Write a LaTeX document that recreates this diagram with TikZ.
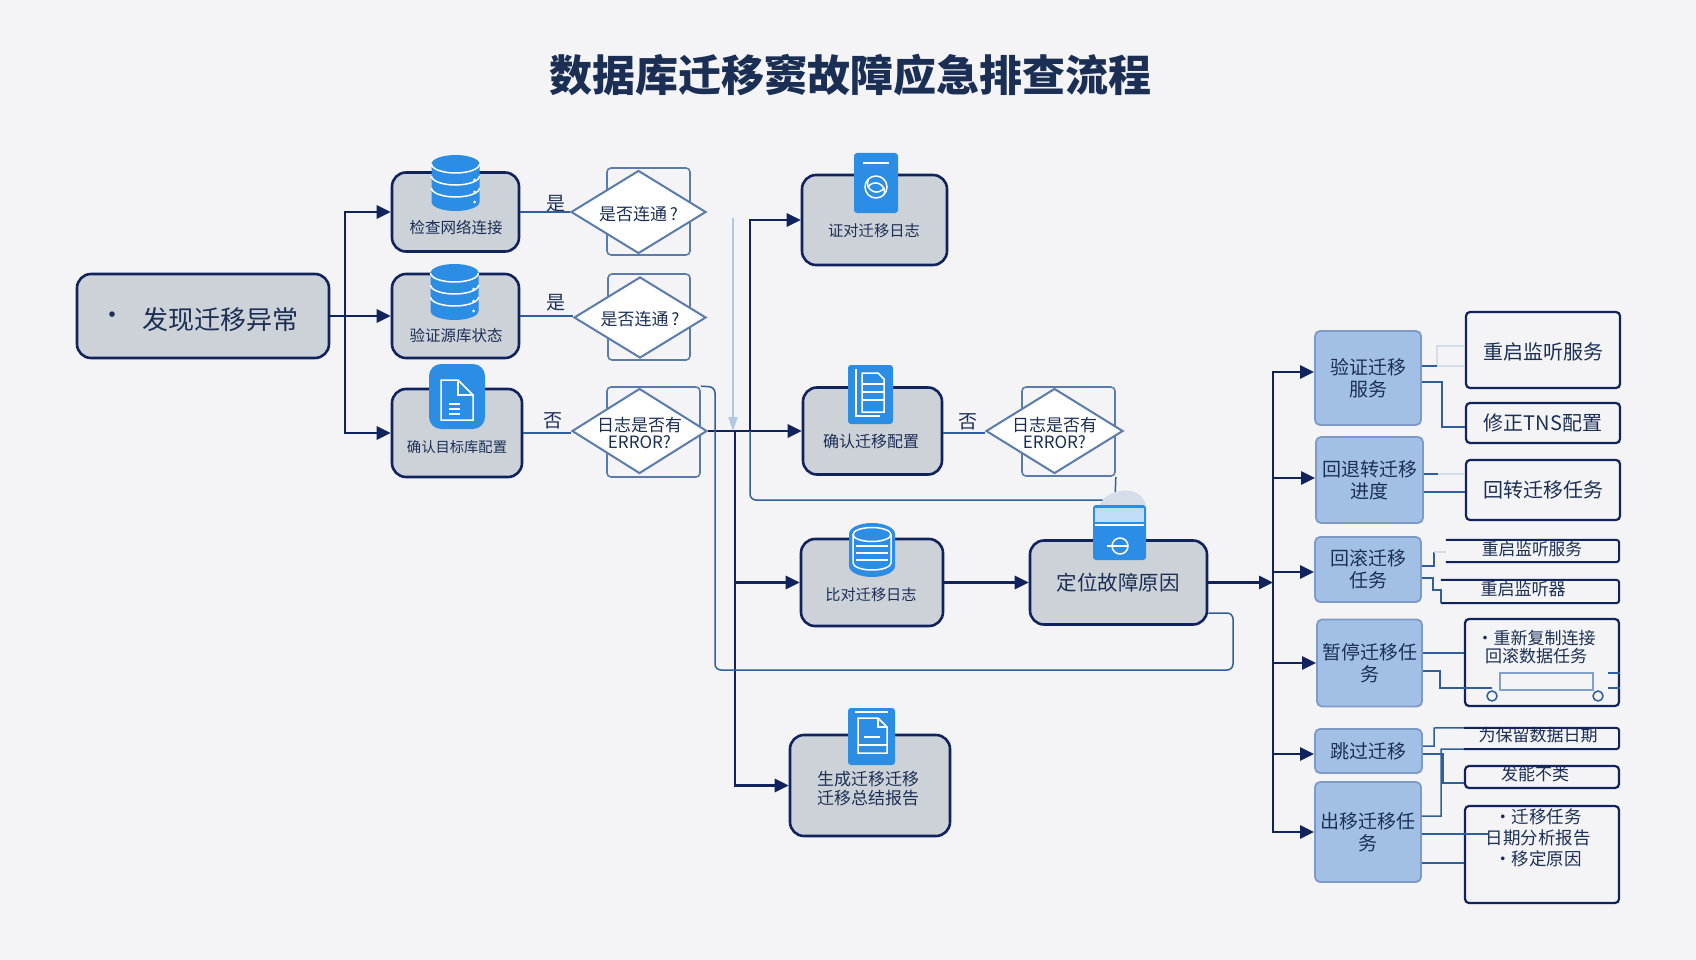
\documentclass[tikz,border=0pt]{standalone}
\usepackage{fontspec}
\setmainfont{Noto Sans CJK SC}
\usetikzlibrary{arrows.meta,shapes.geometric}

\definecolor{pagebg}{HTML}{F4F4F7}
\definecolor{navy}{HTML}{10235C}
\definecolor{inkblue}{HTML}{1B2F55}
\definecolor{grayfill}{HTML}{CDD2D9}
\definecolor{bluefill}{HTML}{A2BFE6}
\definecolor{blueedge}{HTML}{7E9BC6}
\definecolor{iconblue}{HTML}{2C8DE4}
\definecolor{wireblue}{HTML}{2F5F9E}
\definecolor{diamondedge}{HTML}{5A7BAC}
\definecolor{faintblue}{HTML}{D5DDE8}
\definecolor{paleblue}{HTML}{B4C7E0}
\definecolor{markblue}{HTML}{7FA0CC}

\newcommand{\sz}[1]{\fontsize{#1}{#1}\selectfont}
\newcommand{\szl}[2]{\fontsize{#1}{#2}\selectfont}
\newcommand{\dn}[1]{\raisebox{-2pt}[\height][\depth]{#1}}

\tikzset{
  gray node/.style={rectangle,rounded corners=14,draw=navy,line width=2.6,fill=grayfill},
  blue node/.style={rectangle,rounded corners=5,draw=blueedge,line width=1.8,fill=bluefill,
    text=inkblue,align=center,font=\szl{19}{22},inner sep=0},
  box text/.style={text=inkblue,align=center,inner sep=0},
  answer node/.style={rectangle,rounded corners=4,draw=navy,line width=2.2,fill=pagebg,
    text=inkblue,align=center,inner sep=0},
  open node/.style={rectangle,inner sep=0},
  open frame/.style={draw=navy,line width=2,rounded corners=3},
  ask node/.style={diamond,aspect=1.63,draw=diamondedge,line width=2,fill=white,
    text=inkblue,align=center,inner sep=-7pt,font=\szl{17}{17}},
  back node/.style={rectangle,rounded corners=4,draw=diamondedge,line width=1.6},
  icon node/.style={rectangle,rounded corners=3,fill=iconblue,inner sep=0},
  main line/.style={draw=navy,line width=2.8,>={Triangle[length=14pt,width=13pt]}},
  wire/.style={draw=wireblue,line width=1.5},
  faint wire/.style={draw=faintblue,line width=1.2},
  icon line/.style={draw=white,line width=1.5},
  pics/dbstack/.style={code={
    \fill[iconblue] (-24,-19) -- (-24,19) arc[start angle=180,end angle=0,x radius=24,y radius=9]
      -- (24,-19) arc[start angle=0,end angle=-180,x radius=24,y radius=9];
    \foreach \ly in {-19,-7,5}
      \draw[icon line] (-24,\ly) arc[start angle=180,end angle=0,x radius=24,y radius=9];
    \foreach \ly in {-3,9,19}
      \fill[white] (19,\ly) circle[radius=1.5];
  }}
}

\begin{document}
\begin{tikzpicture}[x=1pt,y=-1pt]

  \fill[pagebg] (0,0) rectangle (1696,960);
  \useasboundingbox (0,0) rectangle (1696,960);

  \node[text=inkblue,font=\sz{43}\bfseries] (Title) at (850,75) {数据库迁移窦故障应急排查流程};

  % wires that run behind the boxes come first
  \node[back node,minimum width=83,minimum height=87] (NetBack) at (648.5,211.5) {};
  \node[back node,minimum width=82,minimum height=86] (SrcBack) at (649,317) {};
  \node[back node,minimum width=93,minimum height=90] (TgtBack) at (653.5,432) {};
  \node[back node,minimum width=93,minimum height=89] (CfgBack) at (1068.5,431.5) {};

  \coordinate (LoopA) at (715,670);
  \coordinate (LoopB) at (1233,670);
  \coordinate (LoopC) at (1233,613);
  \coordinate (LoopD) at (750,500);
  \coordinate (LoopE) at (1115,500);
  \coordinate (PaleTop) at (733,218);
  \coordinate (PaleEnd) at (733,431);
  \coordinate (SplitL) at (345,316);
  \coordinate (SplitM) at (735,431);
  \coordinate (SplitC) at (750,431);
  \coordinate (SplitR) at (1273,582.5);

  \node[gray node,minimum width=252,minimum height=84] (Start) at (203,316) {};
  \node[gray node,minimum width=127,minimum height=79] (Net) at (455.5,212) {};
  \node[gray node,minimum width=127,minimum height=84] (Src) at (455.5,316) {};
  \node[gray node,minimum width=130,minimum height=88] (Tgt) at (457,433) {};
  \node[gray node,minimum width=145,minimum height=90] (Log) at (874.5,220) {};
  \node[gray node,minimum width=139,minimum height=87] (Cfg) at (872.5,431) {};
  \node[gray node,minimum width=142,minimum height=87] (Cmp) at (872,582.5) {};
  \node[gray node,minimum width=177,minimum height=84] (Loc) at (1118.5,582.5) {};
  \node[gray node,minimum width=160,minimum height=101] (Rep) at (870,785.5) {};

  \node[box text,font=\sz{26}] (StartText) at (220,320) {发现迁移异常};
  \node[box text,font=\sz{26}] (StartDot) at (112,318) {·};
  \node[box text,font=\sz{15.5}] (NetText) at (456,228) {检查网络连接};
  \node[box text,font=\sz{15.5}] (SrcText) at (456,336) {验证源库状态};
  \node[box text,font=\sz{14.3}] (TgtText) at (457,447) {确认目标库配置};
  \node[box text,font=\sz{15.3}] (LogText) at (874,231) {证对迁移日志};
  \node[box text,font=\sz{16}] (CfgText) at (871,441) {确认迁移配置};
  \node[box text,font=\sz{15.2}] (CmpText) at (871,595) {比对迁移日志};
  \node[box text,font=\sz{20.5}] (LocText) at (1118,583) {定位故障原因};
  \node[box text,font=\szl{17}{19}] (RepText) at (868,789) {生成迁移迁移\\迁移总结报告};

  \node[ask node,minimum width=135,minimum height=83] (AskNet) at (638.5,212) {\dn{是否连通\,?}};
  \node[ask node,minimum width=132,minimum height=81] (AskSrc) at (640,317.5) {\dn{是否连通\,?}};
  \node[ask node,minimum width=135,minimum height=85] (AskTgt) at (639.5,431) {\dn{日志是否有}\\\dn{ERROR?}};
  \node[ask node,minimum width=137,minimum height=85] (AskCfg) at (1054.5,431) {\dn{日志是否有}\\\dn{ERROR?}};

  \node[box text,font=\sz{19}] (YesNet) at (556,204) {是};
  \node[box text,font=\sz{19}] (YesSrc) at (556,303) {是};
  \node[box text,font=\sz{19}] (NoTgt) at (553,421) {否};
  \node[box text,font=\sz{19}] (NoCfg) at (968,422) {否};

  \node[blue node,minimum width=106,minimum height=94] (FixA) at (1368,378) {验证迁移\\服务};
  \node[blue node,minimum width=107,minimum height=86] (FixB) at (1369.5,480) {回退转迁移\\进度};
  \node[blue node,minimum width=106,minimum height=65] (FixC) at (1368,569.5) {回滚迁移\\任务};
  \node[blue node,minimum width=105,minimum height=87] (FixD) at (1369.5,663) {暂停迁移任\\务};
  \node[blue node,minimum width=107,minimum height=44] (FixE) at (1368.5,751) {跳过迁移};
  \node[blue node,minimum width=106,minimum height=100] (FixF) at (1368,832) {出移迁移任\\务};

  \node[answer node,minimum width=154,minimum height=76,font=\sz{20}] (AnsA) at (1543,350) {\dn{重启监听服务}};
  \node[answer node,minimum width=154,minimum height=40,font=\sz{20}] (AnsB) at (1543,423) {修正TNS配置};
  \node[answer node,minimum width=154,minimum height=60,font=\sz{20}] (AnsC) at (1543,490) {回转迁移任务};
  \node[open node,minimum width=173,minimum height=22] (AnsD) at (1532.5,551) {};
  \node[open node,minimum width=178,minimum height=23] (AnsE) at (1530,591.5) {};
  \node[answer node,minimum width=154,minimum height=87] (AnsF) at (1542,662.5) {};
  \node[open node,minimum width=155,minimum height=21] (AnsG) at (1541.5,738.5) {};
  \node[answer node,minimum width=154,minimum height=22] (AnsH) at (1542,777) {};
  \node[answer node,minimum width=154,minimum height=97] (AnsI) at (1542,854.5) {};

  % the open right hand frames
  \draw[open frame] (AnsD.north west) -- (AnsD.north east) -- (AnsD.south east) -- (AnsD.south west);
  \draw[open frame] (AnsE.north west) -- (AnsE.north east) -- (AnsE.south east) -- (AnsE.south west);
  \draw[open frame] (AnsG.north west) -- (AnsG.north east) -- (AnsG.south east) -- (AnsG.south west);

  \node[box text,font=\sz{16.7}] (AnsDText) at (1532,549) {重启监听服务};
  \node[box text,font=\sz{17}] (AnsEText) at (1523,589) {重启监听器};
  \node[box text,font=\szl{17}{18}] (AnsFText) at (1536,647) {•重新复制连接\\回滚数据任务};
  \node[box text,font=\sz{17}] (AnsGText) at (1538,735) {为保留数据日期};
  \node[box text,font=\sz{17}] (AnsHText) at (1535,774) {发能不类};
  \node[box text,font=\szl{17.5}{21}] (AnsIText) at (1538,838) {•迁移任务\\日期分析报告\\•移定原因};

  % pale marks inside the sixth answer
  \draw[draw=markblue,line width=1.5] (1500,673) -- (1593,673) -- (1593,690) -- (1500,690) -- cycle;
  \draw[wire] (1492,696) circle[radius=5];
  \draw[wire] (1598,696) circle[radius=5];
  \draw[wire] (AnsF.east|-0,673) -- +(-12,0);
  \draw[wire] (AnsF.east|-0,688) -- +(-12,0);

  \path[every edge/.style={main line,->}]
    (SplitL) edge (Src.west)
    (AskTgt.east) edge (Cfg.west)
    (Cmp.east) edge (Loc.west)
    (Loc.east) edge (SplitR);
  \draw[main line] (Start.east) -- (SplitL);
  \draw[main line,->] (SplitL) |- (Net.west);
  \draw[main line,->] (SplitL) |- (Tgt.west);
  \draw[main line,->] (SplitC) |- (Log.west);
  \draw[main line,->] (SplitM) |- (Cmp.west);
  \draw[main line,->] (SplitM) |- (Rep.west);
  \draw[main line,->] (SplitR) |- ([yshift=6pt]FixA.west);
  \draw[main line,->] (SplitR) |- ([yshift=2pt]FixB.west);
  \draw[main line,->] (SplitR) |- ([yshift=-2.5pt]FixC.west);
  \draw[main line,->] (SplitR) |- (FixD.west);
  \draw[main line,->] (SplitR) |- ([yshift=-3pt]FixE.west);
  \draw[main line,->] (SplitR) |- (FixF.west);

  \draw[draw=paleblue,line width=2,->,>={Triangle[length=14pt,width=9pt]}] (PaleTop) -- (PaleEnd);

  \draw[wire] (Net.east) -- (AskNet.west);
  \draw[wire] (Src.east) -- (Src.east-|AskSrc.west);
  \draw[wire] (Tgt.east) -- (Tgt.east-|AskTgt.west);
  \draw[wire] ([yshift=-2pt]Cfg.east) -- ([yshift=-2pt]AskCfg.west);

  \draw[wire,rounded corners=6] (TgtBack.north east) -- (715,387) -- (LoopA) -- (LoopB) -- (LoopC) -- (Loc.east|-LoopC);
  \draw[wire,rounded corners=6] (SplitC) -- (LoopD) -- (LoopE) -- (CfgBack.south east);

  % left side wires of the answers
  \draw[faint wire] (1437,366) -- (1437,346) -- (AnsA.west|-0,346);
  \draw[faint wire] (1437,366) -- (AnsA.west|-0,366);
  \draw[wire] (FixA.east|-0,366) -- (1437,366);
  \draw[wire] (FixA.east|-0,382) -- (1442,382) -- (1442,427) -- (AnsB.west|-0,427);
  \draw[faint wire] (1438,474) -- (AnsC.west|-0,474);
  \draw[wire] (FixB.east|-0,474) -- (1438,474);
  \draw[wire] (FixB.east|-0,492) -- (AnsC.west|-0,492);
  \draw[wire] (FixC.east|-0,566) -- (1434,566) -- (1434,552);
  \draw[faint wire] (1434,552) -- (AnsD.west|-0,552);
  \draw[wire] (FixC.east|-0,578) -- (1433,578) -- (1433,590) -- (AnsE.west|-0,590) -- (AnsE.south west);
  \draw[wire] (FixD.east|-0,653) -- (AnsF.west|-0,653);
  \draw[wire] (FixD.east|-0,671) -- (1440,671) -- (1440,688) -- (1492,688);
  \draw[wire] (FixE.east|-0,746) -- (1434,746) -- (1434,728) -- (AnsG.north west);
  \draw[wire] (FixE.east|-0,754) -- (1443,754) -- (1443,783) -- (AnsH.west|-0,783);
  \draw[wire] (FixF.east|-0,816) -- (1441,816) -- (1441,749) -- (AnsG.south west);
  \draw[wire] (FixF.east|-0,834) -- (1488,834);
  \draw[wire] (FixF.east|-0,863) -- (AnsI.west|-0,863);

  % icons
  \pic at (455.5,183) {dbstack};
  \pic at (454.5,292) {dbstack};

  \node[icon node,rounded corners=12,minimum width=56,minimum height=65] (TgtIcon) at (457,396.5) {};
  \draw[icon line] (441,380) -- (458,380) -- (473,395) -- (473,420) -- (441,420) -- cycle;
  \draw[icon line] (458,380) -- (458,395) -- (473,395);
  \foreach \ly in {404,409,414} \draw[icon line] (449,\ly) -- (460,\ly);

  \node[icon node,minimum width=44,minimum height=60] (LogIcon) at (876,183) {};
  \draw[icon line,line width=2] (863,163) -- (889,163);
  \draw[icon line] (876,187) circle[radius=11];
  \draw[icon line] (868,180) arc[start angle=200,end angle=30,radius=9];
  \draw[icon line] (884,195) arc[start angle=20,end angle=-150,radius=9];

  \node[icon node,minimum width=45,minimum height=59] (CfgIcon) at (870.5,394.5) {};
  \draw[icon line] (862,373) -- (878,373) -- (884,379) -- (884,412) -- (862,412) -- cycle;
  \foreach \ly in {384,392,400} \draw[icon line] (862,\ly) -- (884,\ly);
  \draw[icon line] (856,369) -- (856,416) -- (880,416);

  \fill[iconblue] (849,534) -- (849,566) arc[start angle=180,end angle=0,x radius=23,y radius=11]
    -- (895,534) arc[start angle=0,end angle=-180,x radius=23,y radius=11];
  \draw[icon line] (872,534.5) ellipse[x radius=19,y radius=7];
  \draw[icon line] (853,535) -- (853,563) arc[start angle=180,end angle=0,x radius=19,y radius=7] -- (891,535);
  \foreach \ly in {546,553,560} \draw[icon line] (856,\ly) -- (888,\ly);

  \fill[faintblue] (1100,505) .. controls (1104,490) and (1140,482) .. (1146,505) -- cycle;
  \node[icon node,minimum width=53,minimum height=55] (LocIcon) at (1119.5,532.5) {};
  \fill[white!70!iconblue] (1095,508) rectangle (1144,522);
  \draw[icon line] (1095,525) -- (1144,525);
  \draw[icon line] (1120,546) circle[radius=8];
  \draw[icon line] (1107,546) -- (1128,546);

  \node[icon node,minimum width=47,minimum height=57] (RepIcon) at (871.5,736.5) {};
  \draw[icon line] (858,718) -- (878,718) -- (887,727) -- (887,753) -- (858,753) -- cycle;
  \draw[icon line] (878,718) -- (878,727) -- (887,727);
  \draw[icon line] (864,737) -- (880,737);
  \draw[icon line] (858,745) -- (887,745);
  \draw[icon line] (855,712) -- (888,712);

\end{tikzpicture}
\end{document}
